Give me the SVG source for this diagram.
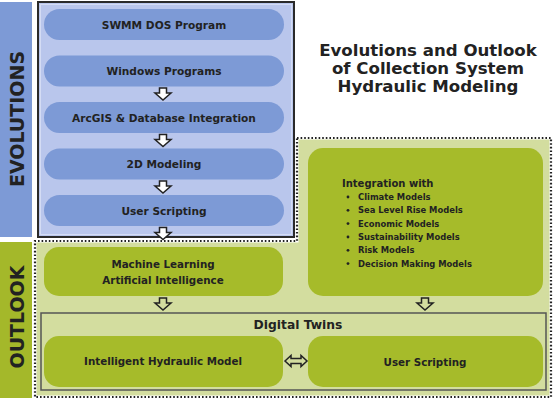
<svg xmlns="http://www.w3.org/2000/svg" width="554" height="400" viewBox="0 0 554 400">
<style>
text{font-family:"DejaVu Sans","Liberation Sans",sans-serif;font-weight:bold;fill:#222}
.lbl{font-size:10.6px;text-anchor:middle}
.gl{font-size:10.3px;text-anchor:middle}
.item{font-size:8.4px}
.side{font-size:19px;text-anchor:middle}
.title{font-size:16.6px;text-anchor:middle}
.bpill{fill:#7d9ad6}
.gpill{fill:#a6bb2a}
.arr{stroke:#222;stroke-width:1.5;stroke-linejoin:miter}
.arrb{fill:#fff}
.arrg{fill:#d3dd9f}
</style>
<defs>
<path id="down" d="M-3.5,0 h7 v5 h4.5 l-8,7 l-8,-7 h4.5 z"/>
</defs>
<rect width="554" height="400" fill="#fff"/>
<g id="outlook-region">
<path d="M297,138 H551 V397 H35 V241 H297 Z" fill="#d3dd9f"/>
<path d="M297,138 H551 V397 H35 V241 H297 Z" fill="none" stroke="#fff" stroke-width="3"/>
<path d="M297,138 H551 V397 H35 V241 H297 Z" fill="none" stroke="#222" stroke-width="2.2" stroke-dasharray="1.6 2"/>
</g>
<g id="evolutions-label">
<rect x="0" y="2" width="32" height="235" fill="#7d9ad6"/>
<text class="side" transform="translate(24,119) rotate(-90)">EVOLUTIONS</text>
</g>
<g id="outlook-label">
<rect x="0" y="242" width="32" height="156" fill="#a4b82a"/>
<text class="side" transform="translate(24,317) rotate(-90)">OUTLOOK</text>
</g>
<g id="evolutions">
<rect x="38" y="2" width="256" height="235" fill="#b9c6ec" stroke="#2a2a2a" stroke-width="2"/>
<rect x="40.5" y="4.5" width="251" height="230" fill="none" stroke="#d4dcf4" stroke-width="1"/>
</g>
<g id="swmm-dos">
<rect class="bpill" x="44" y="9" width="240" height="31" rx="15.5"/>
<text class="lbl" x="164" y="28.5">SWMM DOS Program</text>
</g>
<g id="windows">
<rect class="bpill" x="44" y="55.5" width="240" height="31" rx="15.5"/>
<text class="lbl" x="164" y="75">Windows Programs</text>
</g>
<g id="arcgis">
<rect class="bpill" x="44" y="102" width="240" height="31" rx="15.5"/>
<text class="lbl" x="164" y="121.5">ArcGIS &amp; Database Integration</text>
</g>
<g id="modeling2d">
<rect class="bpill" x="44" y="148.5" width="240" height="31" rx="15.5"/>
<text class="lbl" x="164" y="168">2D Modeling</text>
</g>
<g id="user-scripting-evo">
<rect class="bpill" x="44" y="195" width="240" height="31" rx="15.5"/>
<text class="lbl" x="164" y="214.5">User Scripting</text>
</g>
<g id="title">
<text class="title" x="428" y="56">Evolutions and Outlook</text>
<text class="title" x="428" y="74">of Collection System</text>
<text class="title" x="428" y="92">Hydraulic Modeling</text>
</g>
<g id="integration">
<rect class="gpill" x="308" y="148" width="235" height="148" rx="15"/>
<text x="342" y="187" style="font-size:10px">Integration with</text>
<g fill="#222">
<circle cx="348" cy="197" r="1.4"/>
<circle cx="348" cy="210.3" r="1.4"/>
<circle cx="348" cy="223.6" r="1.4"/>
<circle cx="348" cy="237" r="1.4"/>
<circle cx="348" cy="250.3" r="1.4"/>
<circle cx="348" cy="263.6" r="1.4"/>
</g>
<text class="item" x="358" y="200">Climate Models</text>
<text class="item" x="358" y="213.3">Sea Level Rise Models</text>
<text class="item" x="358" y="226.6">Economic Models</text>
<text class="item" x="358" y="240">Sustainability Models</text>
<text class="item" x="358" y="253.3">Risk Models</text>
<text class="item" x="358" y="266.6">Decision Making Models</text>
</g>
<g id="ml-ai">
<rect class="gpill" x="44" y="247" width="239" height="49" rx="15"/>
<text class="gl" x="163" y="268">Machine Learning</text>
<text class="gl" x="163" y="284">Artificial Intelligence</text>
</g>
<g id="digital-twins">
<rect x="41" y="313" width="505" height="77" fill="#d3dd9f" stroke="#555" stroke-width="1.5"/>
<text x="298" y="329" style="font-size:12.3px;text-anchor:middle">Digital Twins</text>
</g>
<g id="intelligent-model">
<rect class="gpill" x="44" y="336" width="239" height="51" rx="15"/>
<text class="gl" x="163" y="365">Intelligent Hydraulic Model</text>
</g>
<g id="user-scripting-dt">
<rect class="gpill" x="308" y="336" width="235" height="51" rx="15"/>
<text class="gl" x="425" y="366">User Scripting</text>
</g>
<g id="connectors">
<use href="#down" class="arr arrb" x="163" y="88"/>
<use href="#down" class="arr arrb" x="163" y="134.5"/>
<use href="#down" class="arr arrb" x="163" y="181"/>
<use href="#down" class="arr arrb" x="163" y="227.5"/>
<use href="#down" class="arr arrg" x="163" y="298"/>
<use href="#down" class="arr arrg" x="425" y="298"/>
<path class="arr arrg" d="M285,361 l6,-5.5 v3 h10 v-3 l6,5.5 l-6,5.5 v-3 h-10 v3 z"/>
</g>
</svg>
